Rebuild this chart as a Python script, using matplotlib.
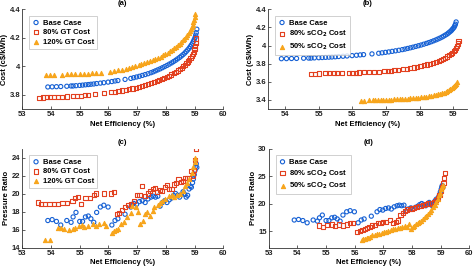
import matplotlib
matplotlib.use("Agg")
import matplotlib.pyplot as plt

plt.rcParams['font.family'] = ['Liberation Sans', 'DejaVu Sans']
plt.rcParams['font.weight'] = 'bold'
plt.rcParams['mathtext.default'] = 'bf'

# ---------------- data ----------------
# base case (same solutions in every panel)
base_eff = [53.89, 54.04, 54.19, 54.34, 54.55, 54.70, 54.77, 54.87, 55.00, 55.10,
            55.20, 55.30, 55.39, 55.49, 55.59, 55.72, 55.84, 55.99, 56.12, 56.23,
            56.33, 56.58, 56.78, 56.88, 56.98, 57.08, 57.18, 57.28, 57.38, 57.48,
            57.56, 57.64, 57.72, 57.80, 57.88, 57.96, 58.04, 58.12, 58.20, 58.27,
            58.34, 58.41, 58.48, 58.54, 58.60, 58.66, 58.71, 58.76, 58.81, 58.85,
            58.89, 58.93, 58.96, 58.99, 59.02, 59.04, 59.06, 59.08]
base_cost = [3.855, 3.856, 3.857, 3.858, 3.860, 3.862, 3.862, 3.864, 3.866, 3.868,
             3.870, 3.872, 3.874, 3.876, 3.879, 3.882, 3.885, 3.889, 3.893, 3.897,
             3.900, 3.908, 3.915, 3.920, 3.925, 3.930, 3.936, 3.942, 3.948, 3.955,
             3.961, 3.968, 3.975, 3.982, 3.990, 3.998, 4.006, 4.015, 4.024, 4.033,
             4.042, 4.052, 4.062, 4.072, 4.082, 4.093, 4.104, 4.115, 4.126, 4.138,
             4.150, 4.162, 4.175, 4.188, 4.202, 4.218, 4.235, 4.260]
base_pr = [17.0, 17.1, 16.9, 16.5, 17.0, 16.8, 17.4, 17.9, 16.9, 16.9,
           17.4, 17.5, 17.2, 16.8, 17.9, 18.5, 18.7, 18.5, 16.5, 17.0,
           17.2, 17.7, 18.5, 18.9, 18.8, 19.1, 19.2, 19.0, 19.4, 19.6,
           19.7, 19.6, 19.7, 18.6, 19.0, 19.2, 19.0, 19.3, 19.5, 19.8,
           20.0, 19.8, 19.6, 19.9, 20.2, 19.9, 19.6, 19.8, 20.5, 20.8,
           20.7, 21.2, 21.6, 22.1, 22.6, 23.0, 23.3, 22.9]

# (a) 80% and 120% GT cost
gt80_eff = [53.60, 53.72, 53.85, 53.98, 54.10, 54.25, 54.38, 54.55, 54.78, 54.92,
            55.05, 55.18, 55.30, 55.52, 55.85, 56.10, 56.22, 56.35, 56.48, 56.60,
            56.72, 56.84, 56.95, 57.06, 57.17, 57.28, 57.38, 57.48, 57.58, 57.68,
            57.77, 57.86, 57.95, 58.03, 58.11, 58.19, 58.27, 58.34, 58.41, 58.48,
            58.55, 58.61, 58.67, 58.72, 58.77, 58.82, 58.86, 58.90, 58.94, 58.97,
            59.00, 59.02, 59.04, 59.05]
gt80_cost = [3.780, 3.781, 3.782, 3.783, 3.784, 3.785, 3.786, 3.788, 3.790, 3.792,
             3.794, 3.796, 3.798, 3.803, 3.810, 3.818, 3.822, 3.826, 3.830, 3.834,
             3.839, 3.844, 3.849, 3.855, 3.861, 3.867, 3.873, 3.880, 3.887, 3.895,
             3.902, 3.910, 3.918, 3.926, 3.934, 3.943, 3.952, 3.961, 3.970, 3.980,
             3.990, 4.000, 4.011, 4.022, 4.034, 4.046, 4.058, 4.070, 4.085, 4.100,
             4.120, 4.140, 4.165, 4.195]
gt120_eff = [53.82, 53.95, 54.10, 54.40, 54.55, 54.70, 54.85, 55.00, 55.15, 55.30,
             55.42, 55.58, 55.75, 56.05, 56.18, 56.35, 56.48, 56.60, 56.72, 56.83,
             56.94, 57.05, 57.15, 57.25, 57.35, 57.45, 57.55, 57.64, 57.73, 57.82,
             57.90, 57.98, 58.06, 58.14, 58.21, 58.28, 58.35, 58.42, 58.48, 58.54,
             58.60, 58.65, 58.70, 58.75, 58.79, 58.83, 58.87, 58.90, 58.93, 58.96,
             58.98, 59.00, 59.01]
gt120_cost = [3.938, 3.939, 3.940, 3.942, 3.943, 3.944, 3.945, 3.946, 3.947, 3.949,
              3.951, 3.953, 3.956, 3.962, 3.966, 3.971, 3.976, 3.981, 3.987, 3.993,
              3.999, 4.006, 4.013, 4.020, 4.027, 4.035, 4.043, 4.051, 4.059, 4.068,
              4.077, 4.086, 4.095, 4.105, 4.115, 4.125, 4.136, 4.147, 4.158, 4.170,
              4.182, 4.194, 4.207, 4.220, 4.233, 4.247, 4.262, 4.277, 4.293, 4.310,
              4.328, 4.348, 4.370]

# (b) 80% and 50% sCO2 cost
s80_eff = [54.77, 54.90, 55.00, 55.20, 55.30, 55.45, 55.55, 55.70, 55.90, 56.00,
           56.10, 56.20, 56.35, 56.50, 56.65, 56.80, 56.95, 57.05, 57.15, 57.25,
           57.35, 57.50, 57.62, 57.72, 57.82, 57.92, 58.02, 58.12, 58.22, 58.31,
           58.40, 58.48, 58.56, 58.63, 58.70, 58.76, 58.82, 58.87, 58.92, 58.97,
           59.01, 59.05, 59.08, 59.11, 59.13, 59.15]
s80_cost = [3.690, 3.691, 3.692, 3.693, 3.694, 3.695, 3.696, 3.697, 3.699, 3.700,
            3.701, 3.703, 3.705, 3.707, 3.710, 3.713, 3.717, 3.720, 3.724, 3.728,
            3.732, 3.740, 3.746, 3.752, 3.759, 3.766, 3.774, 3.782, 3.791, 3.800,
            3.810, 3.820, 3.831, 3.842, 3.854, 3.866, 3.879, 3.892, 3.906, 3.921,
            3.937, 3.955, 3.975, 3.998, 4.022, 4.050]
s50_eff = [56.24, 56.33, 56.50, 56.60, 56.68, 56.76, 56.84, 56.92, 57.00, 57.08,
           57.16, 57.24, 57.32, 57.40, 57.48, 57.56, 57.64, 57.72, 57.80, 57.88,
           57.96, 58.04, 58.12, 58.20, 58.27, 58.34, 58.41, 58.48, 58.54, 58.60,
           58.66, 58.72, 58.77, 58.82, 58.87, 58.91, 58.95, 58.99, 59.03, 59.06,
           59.09, 59.12]
s50_cost = [3.390, 3.392, 3.395, 3.397, 3.398, 3.399, 3.400, 3.401, 3.402, 3.403,
            3.404, 3.406, 3.407, 3.409, 3.411, 3.413, 3.415, 3.417, 3.420, 3.423,
            3.426, 3.429, 3.433, 3.437, 3.441, 3.446, 3.451, 3.456, 3.462, 3.468,
            3.475, 3.482, 3.490, 3.498, 3.507, 3.517, 3.527, 3.538, 3.550, 3.563,
            3.577, 3.595]

# (c) pressure ratio, GT cost cases
gt80_pr_eff = [53.55, 53.65, 53.80, 53.95, 54.10, 54.25, 54.40, 54.55, 54.75, 54.85,
               54.95, 55.05, 55.20, 55.35, 55.50, 55.58, 55.85, 56.10, 56.20, 56.30,
               56.38, 56.48, 56.58, 56.68, 56.78, 56.88, 57.00, 57.08, 57.18, 57.28,
               57.38, 57.46, 57.55, 57.62, 57.70, 57.80, 57.88, 57.96, 58.04, 58.12,
               58.20, 58.28, 58.36, 58.44, 58.52, 58.60, 58.68, 58.75, 58.82, 58.88,
               58.94, 58.98, 59.02, 59.05]
gt80_pr = [19.0, 18.8, 18.8, 18.8, 18.8, 18.8, 18.9, 18.9, 19.2, 19.5,
           19.6, 18.8, 19.5, 19.5, 19.8, 20.0, 20.0, 20.0, 20.2, 17.7,
           17.8, 18.2, 18.5, 18.7, 18.8, 19.2, 19.8, 19.8, 20.8, 19.7,
           20.0, 20.3, 20.5, 20.6, 20.2, 20.4, 20.3, 20.7, 20.9, 20.5,
           20.5, 21.0, 21.2, 21.6, 21.3, 21.4, 21.7, 21.7, 21.7, 22.5,
           22.0, 22.6, 23.7, 24.9]
gt120_pr_eff = [53.80, 53.95, 54.25, 54.35, 54.45, 54.63, 54.75, 54.85, 54.97, 55.08,
                55.15, 55.30, 55.48, 55.57, 55.68, 55.84, 55.90, 56.12, 56.20, 56.28,
                56.33, 56.44, 56.55, 56.66, 56.77, 56.83, 56.95, 57.03, 57.10, 57.20,
                57.28, 57.33, 57.44, 57.55, 57.60, 57.71, 57.79, 57.88, 57.98, 58.10,
                58.20, 58.30, 58.40, 58.50, 58.60, 58.68, 58.75, 58.82, 58.90, 58.95,
                59.00, 59.02]
gt120_pr = [14.8, 14.8, 16.2, 16.2, 16.1, 16.0, 16.1, 16.2, 16.4, 16.5,
            16.3, 16.4, 16.6, 16.4, 16.6, 16.7, 16.4, 15.6, 15.8, 16.0,
            16.1, 16.6, 16.8, 17.4, 17.8, 18.6, 18.5, 17.9, 16.6, 17.0,
            17.7, 18.0, 17.5, 18.1, 18.5, 18.7, 19.0, 19.2, 19.4, 19.7,
            19.8, 19.6, 19.8, 20.0, 20.3, 20.8, 21.2, 21.6, 22.3, 23.0,
            23.5, 24.0]

# (d) pressure ratio, sCO2 cost cases
s80_pr_eff = [54.76, 54.89, 55.03, 55.21, 55.30, 55.46, 55.59, 55.74, 55.83, 55.94,
              56.07, 56.18, 56.27, 56.35, 56.44, 56.52, 56.60, 56.71, 56.82, 56.90,
              56.98, 57.10, 57.22, 57.33, 57.44, 57.52, 57.60, 57.68, 57.76, 57.84,
              57.92, 58.00, 58.08, 58.16, 58.24, 58.32, 58.40, 58.48, 58.56, 58.63,
              58.70, 58.77, 58.84, 58.90, 58.96, 59.01, 59.06, 59.10, 59.13, 59.15]
s80_pr = [16.0, 15.8, 16.1, 16.2, 15.9, 16.2, 16.0, 16.2, 16.4, 16.5,
          14.8, 15.0, 15.2, 15.4, 15.6, 15.8, 16.0, 16.1, 16.4, 16.5,
          16.6, 16.6, 17.0, 16.5, 16.7, 16.9, 17.9, 18.3, 18.6, 18.9,
          19.0, 19.1, 19.2, 19.4, 19.5, 19.6, 19.8, 19.9, 20.0, 20.0,
          20.1, 20.3, 20.6, 21.0, 21.6, 22.2, 23.0, 23.8, 24.6, 25.6]
s50_pr_eff = [56.24, 56.30, 56.36, 56.42, 56.48, 56.55, 56.62, 56.70, 56.78, 56.86,
              56.94, 57.02, 57.10, 57.18, 57.26, 57.34, 57.42, 57.50, 57.58, 57.66,
              57.74, 57.82, 57.90, 57.96, 58.02, 58.08, 58.14, 58.20, 58.26, 58.32,
              58.38, 58.44, 58.50, 58.56, 58.62, 58.68, 58.74, 58.80, 58.85, 58.90,
              58.94, 58.98, 59.02, 59.05, 59.08]
s50_pr = [13.4, 13.5, 13.6, 13.7, 13.8, 14.0, 14.2, 14.3, 14.4, 14.5,
          14.6, 14.8, 14.9, 15.0, 15.2, 15.3, 15.4, 15.5, 15.6, 15.8,
          16.0, 15.8, 16.3, 15.4, 15.7, 16.0, 16.2, 16.4, 16.6, 16.9,
          17.2, 17.5, 17.8, 18.1, 18.5, 18.9, 19.3, 19.8, 20.3, 20.9,
          21.5, 22.0, 22.6, 23.0, 23.4]

BLUE = '#1560d4'
RED = '#e2401f'
ORANGE = '#f7a51c'
FS = 5.5


def draw(ax, series, labels):
    styles = [dict(marker='o', facecolors='none', edgecolors=BLUE),
              dict(marker='s', facecolors='none', edgecolors=RED),
              dict(marker='^', facecolors=ORANGE, edgecolors=ORANGE)]
    for (x, y), lab, st in zip(series, labels, styles):
        ax.scatter(x, y, s=9, linewidths=0.8, label=lab, **st)
    leg = ax.legend(loc='upper left', fontsize=FS, frameon=True, fancybox=False,
                    borderpad=0.4, handletextpad=0.4, labelspacing=0.3,
                    handlelength=1.0, borderaxespad=0.9)
    leg.get_frame().set_edgecolor('#bbbbbb')
    leg.get_frame().set_linewidth(0.6)
    ax.spines['top'].set_visible(False)
    ax.spines['right'].set_visible(False)
    for sp in ('left', 'bottom'):
        ax.spines[sp].set_color('#333333')
        ax.spines[sp].set_linewidth(0.6)
    ax.tick_params(direction='in', length=2, width=0.5, labelsize=FS, pad=1.5,
                   colors='#222222')
    ax.set_xlabel('Net Efficiency (%)', fontsize=FS, fontweight='bold', labelpad=2)


fig = plt.figure(figsize=(4.74, 2.72), dpi=100)
ax_a = fig.add_axes([0.047, 0.599, 0.424, 0.367])
ax_b = fig.add_axes([0.566, 0.599, 0.419, 0.367])
ax_c = fig.add_axes([0.047, 0.090, 0.424, 0.364])
ax_d = fig.add_axes([0.567, 0.090, 0.423, 0.364])

gt_labels = ['Base Case', '80% GT Cost', '120% GT Cost']
s_labels = ['Base Case', r'80% sCO$_2$ Cost', r'50% sCO$_2$ Cost']

draw(ax_a, [(base_eff, base_cost), (gt80_eff, gt80_cost), (gt120_eff, gt120_cost)], gt_labels)
ax_a.set_xlim(53, 60)
ax_a.set_ylim(3.7, 4.4)
ax_a.set_yticks([3.8, 4.0, 4.2, 4.4])
ax_a.set_yticklabels(['3.8', '4', '4.2', '4.4'])
ax_a.set_ylabel('Cost (c$/kWh)', fontsize=FS, fontweight='bold', labelpad=1)
ax_a.set_title('(a)', fontsize=FS, fontweight='bold', pad=3)

draw(ax_b, [(base_eff, base_cost), (s80_eff, s80_cost), (s50_eff, s50_cost)], s_labels)
ax_b.set_xlim(53.5, 59.4)
ax_b.set_xticks([54, 55, 56, 57, 58, 59])
ax_b.set_ylim(3.3, 4.4)
ax_b.set_yticks([3.4, 3.6, 3.8, 4.0, 4.2, 4.4])
ax_b.set_yticklabels(['3.4', '3.6', '3.8', '4', '4.2', '4.4'])
ax_b.set_ylabel('Cost (c$/kWh)', fontsize=FS, fontweight='bold', labelpad=1)
ax_b.set_title('(b)', fontsize=FS, fontweight='bold', pad=3)

draw(ax_c, [(base_eff, base_pr), (gt80_pr_eff, gt80_pr), (gt120_pr_eff, gt120_pr)], gt_labels)
ax_c.set_xlim(53, 60)
ax_c.set_ylim(14, 25)
ax_c.set_yticks([14, 16, 18, 20, 22, 24])
ax_c.set_ylabel('Pressure Ratio', fontsize=FS, fontweight='bold', labelpad=1)
ax_c.set_title('(c)', fontsize=FS, fontweight='bold', pad=3)

draw(ax_d, [(base_eff, base_pr), (s80_pr_eff, s80_pr), (s50_pr_eff, s50_pr)], s_labels)
ax_d.set_xlim(53, 60)
ax_d.set_ylim(12, 30)
ax_d.set_yticks([15, 20, 25, 30])
ax_d.set_ylabel('Pressure Ratio', fontsize=FS, fontweight='bold', labelpad=1)
ax_d.set_title('(d)', fontsize=FS, fontweight='bold', pad=3)

fig.savefig('out.png', dpi=100)
